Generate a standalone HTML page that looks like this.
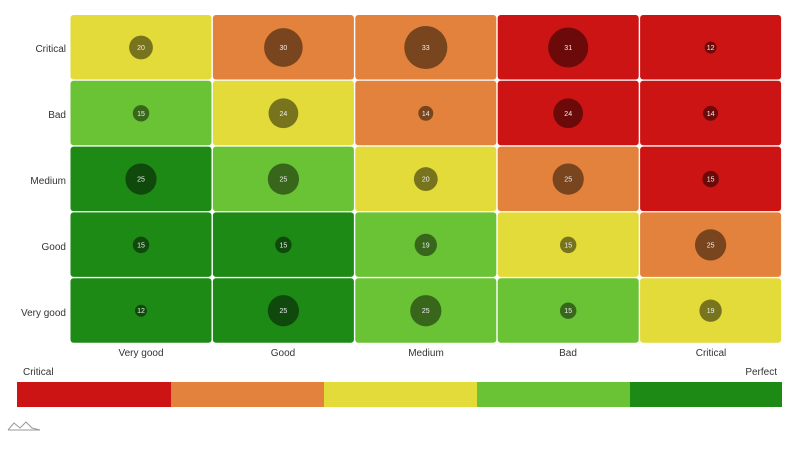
<!DOCTYPE html><html><head><style>body{margin:0;background:#fff;font-family:"Liberation Sans",sans-serif}</style></head><body>
<svg width="800" height="450" xmlns="http://www.w3.org/2000/svg" font-family="Liberation Sans, sans-serif">
<g id="g"></g>
<g font-size="10" fill="#333" text-anchor="end">
<text x="66" y="52">Critical</text><text x="66" y="118">Bad</text><text x="66" y="184">Medium</text><text x="66" y="250">Good</text><text x="66" y="316">Very good</text>
</g>
<g font-size="10" fill="#333" text-anchor="middle">
<text x="141" y="356">Very good</text><text x="283" y="356">Good</text><text x="426" y="356">Medium</text><text x="568" y="356">Bad</text><text x="711" y="356">Critical</text>
</g>
<text x="23" y="375" font-size="10" fill="#333">Critical</text>
<text x="777" y="375" font-size="10" fill="#333" text-anchor="end">Perfect</text>
<rect x="17" y="382" width="154" height="25" fill="#cc1414"/>
<rect x="171" y="382" width="153" height="25" fill="#e3823c"/>
<rect x="324" y="382" width="153" height="25" fill="#e2db3a"/>
<rect x="477" y="382" width="153" height="25" fill="#6ac235"/>
<rect x="630" y="382" width="152" height="25" fill="#1e8a16"/>
<path d="M8 430 L14 423 L20 428 L26 422 L32 428 L40 430" fill="none" stroke="#999" stroke-width="1"/>
<line x1="8" y1="430" x2="40" y2="430" stroke="#999"/>
</svg>
<script>
var C={R:"#cc1414",O:"#e3823c",Y:"#e2db3a",L:"#6ac235",D:"#1e8a16"};
var d=[["Y20","O30","O33","R31","R12"],["L15","Y24","O14","R24","R14"],["D25","L25","Y20","O25","R15"],["D15","D15","L19","Y15","O25"],["D12","D25","L25","L15","Y19"]];
var s="";
for(var r=0;r<5;r++)for(var c=0;c<5;c++){var t=d[r][c],col=C[t[0]],v=+t.slice(1);
var x=70+c*142.4,y=15+r*65.8,w=141,h=64.5;
s+='<rect x="'+(x+0.5)+'" y="'+y+'" width="'+w+'" height="'+h+'" rx="3" fill="'+col+'"/>';
var cx=x+71,cy=y+32.5,rad=6+(v-12)*0.74;
s+='<circle cx="'+cx+'" cy="'+cy+'" r="'+rad+'" fill="rgba(0,0,0,0.47)"/>';
s+='<text x="'+cx+'" y="'+(cy+2.5)+'" font-size="7" fill="#eee" text-anchor="middle">'+v+'</text>';}
document.getElementById("g").innerHTML=s;
</script>
</body></html>
